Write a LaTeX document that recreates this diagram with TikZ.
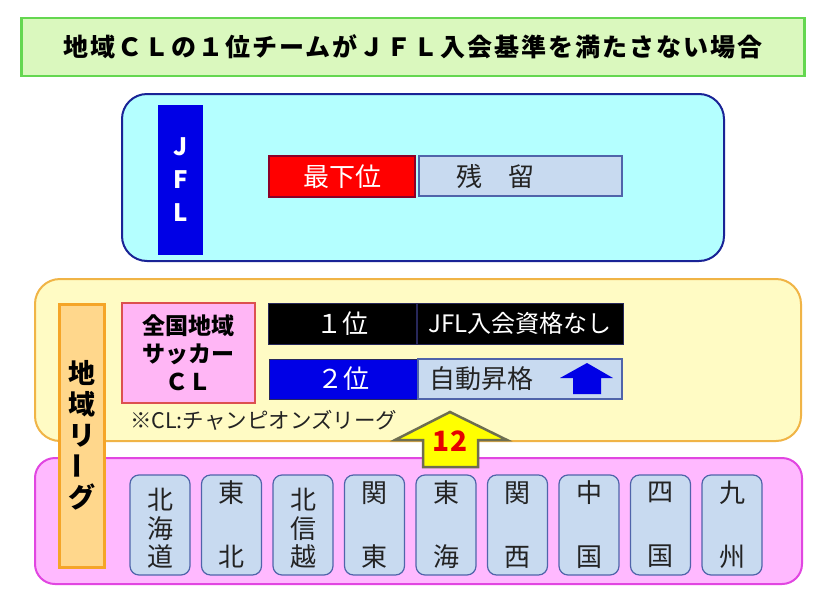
\documentclass[tikz,border=0pt]{standalone}
\usepackage{fontspec}
\usepackage{graphicx}
\setmainfont{Noto Sans CJK JP}
\definecolor{titlefill}{RGB}{218,248,190}
\definecolor{titleline}{RGB}{100,215,80}
\definecolor{jflfill}{RGB}{180,255,255}
\definecolor{jflline}{RGB}{25,35,150}
\definecolor{barblue}{RGB}{0,0,230}
\definecolor{redfill}{RGB}{255,0,0}
\definecolor{redline}{RGB}{140,0,40}
\definecolor{lbfill}{RGB}{200,218,240}
\definecolor{lbline}{RGB}{80,100,170}
\definecolor{yfill}{RGB}{255,251,196}
\definecolor{yline}{RGB}{240,180,70}
\definecolor{ofill}{RGB}{255,215,140}
\definecolor{oline}{RGB}{245,165,40}
\definecolor{pfill}{RGB}{255,182,245}
\definecolor{pline}{RGB}{220,80,80}
\definecolor{mfill}{RGB}{255,185,255}
\definecolor{mline}{RGB}{225,70,225}
\definecolor{darktext}{RGB}{35,35,35}
\definecolor{arrowline}{RGB}{110,110,80}
\definecolor{arrowyellow}{RGB}{255,255,0}
\definecolor{numred}{RGB}{230,0,0}
\definecolor{blackline}{RGB}{40,40,90}
\begin{document}
\begin{tikzpicture}[x=1pt,y=-1pt,
  box/.style={inner sep=0pt,outer sep=0pt,align=center},
  regionbox/.style={box,draw=lbline,line width=1.2pt,fill=lbfill,rounded corners=9pt,minimum width=60pt,minimum height=100pt},
  regiontext/.style={box,text=darktext,font=\fontsize{26}{28.5}\selectfont},
  cellw/.style={box,text=white,font=\fontsize{26}{30}\selectfont},
]
\useasboundingbox (0,0) rectangle (825,600);
\fill[white] (0,0) rectangle (825,600);
% title
\node[box,draw=titleline,line width=2.5pt,fill=titlefill,minimum width=783pt,minimum height=58pt,
  font=\fontsize{25}{28}\selectfont\bfseries] (title) at (413,47)
  {\addfontfeatures{LetterSpace=8}地域ＣＬの１位チームがＪＦＬ入会基準を満たさない場合};
% JFL
\node[box,draw=jflline,line width=2pt,fill=jflfill,rounded corners=25pt,minimum width=602pt,minimum height=167pt] (jflbox) at (423,177.5) {};
\node[box,fill=barblue,minimum width=45pt,minimum height=150pt,text=white,font=\fontsize{24}{33}\selectfont\bfseries] (jflbar) at (180.5,180) {J\\F\\L};
\node[cellw,draw=redline,line width=1.2pt,fill=redfill,minimum width=146pt,minimum height=41pt] (saikai) at (342,176.5) {最下位};
\node[box,draw=lbline,line width=1.2pt,fill=lbfill,minimum width=203pt,minimum height=40pt] (zanryu) at (520.5,176) {};
\node[box,anchor=west,text=darktext,font=\fontsize{26}{30}\selectfont] (zanryut) at (456,176) {残　留};
% regional league area
\node[box,draw=yline,line width=2pt,fill=yfill,rounded corners=25pt,minimum width=766pt,minimum height=162pt] (ybox) at (418,360) {};
\node[box,draw=mline,line width=2pt,fill=mfill,rounded corners=20pt,minimum width=767pt,minimum height=126pt] (mbox) at (418.5,521) {};
\node[box,draw=oline,line width=3pt,fill=ofill,minimum width=45pt,minimum height=263pt,font=\fontsize{27}{31}\selectfont\bfseries] (chiikibar) at (81.5,435.5)
  {地\\域\\リ\\\raisebox{-0.1em}{\rotatebox{90}{ー}}\\グ};
\node[box,draw=pline,line width=1.5pt,fill=pfill,minimum width=133pt,minimum height=100pt,font=\fontsize{23}{28}\selectfont\bfseries] (clbox) at (188.5,353)
  {全国地域\\サッカー\\ＣＬ};
\node[cellw,draw=blackline,line width=1pt,fill=black,minimum width=148pt,minimum height=41pt] (first) at (342,323.5) {１位};
\node[box,draw=blackline,line width=1pt,fill=black,minimum width=206pt,minimum height=41pt,text=white,font=\fontsize{24}{28}\selectfont] (jflnashi) at (520,323.5) {JFL入会資格なし};
\node[cellw,draw=blackline,line width=1pt,fill=barblue,minimum width=148pt,minimum height=40pt] (second) at (343,379) {２位};
\node[box,draw=lbline,line width=1.2pt,fill=lbfill,minimum width=204pt,minimum height=40pt] (jidou) at (520,379) {};
\node[box,anchor=west,text=darktext,font=\fontsize{26}{30}\selectfont] (jidout) at (429,379) {自動昇格};
\fill[barblue] (587,363) -- (613,378) -- (601,378) -- (601,394) -- (573,394) -- (573,378) -- (560,378) -- cycle;
\node[box,anchor=west,text=darktext,font=\fontsize{21.5}{24}\selectfont] (note) at (130,420) {※CL:チャンピオンズリーグ};
% regions
\foreach \t/\dy [count=\i from 0] in {
  {北\\海\\道}/-3.5, {東\\[35.5pt]北}/0, {北\\信\\越}/-3.5, {関\\[35.5pt]東}/0, {東\\[35.5pt]海}/0,
  {関\\[35.5pt]西}/0, {中\\[35.5pt]国}/0, {四\\[35.5pt]国}/0, {九\\[35.5pt]州}/0} {
  \node[regionbox] (r\i) at (160+71.5*\i,525) {};
  \node[regiontext] (rt\i) at ([yshift=\dy pt]r\i.center) {\t};
}
% promotion arrow
\draw[line width=2.5pt,draw=arrowline,fill=arrowyellow,line join=miter]
  (450,412) -- (507,440) -- (478,440) -- (478,467) -- (423,467) -- (423,440) -- (395,440) -- cycle;
\node[box,text=numred,font=\fontsize{28}{30}\selectfont\bfseries] (twelve) at (450,441.5) {12};
\end{tikzpicture}
\end{document}
